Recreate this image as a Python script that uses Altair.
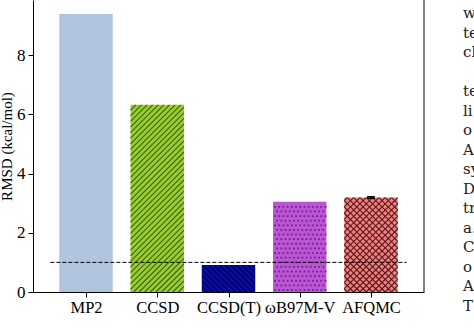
import json
import altair as alt
import pandas as pd

# ---- data ----
names = ["MP2", "CCSD", "CCSD(T)", "ωB97M-V", "AFQMC"]
rmsd = [9.39, 6.32, 0.91, 3.05, 3.19]
errs = [0.0, 0.0, 0.0, 0.0, 0.025]
threshold = 1.0
yticks = [0, 2, 4, 6, 8]
frag_text = ["w", "te", "cl", "", "te", "li", "o", "A", "sy", "D", "tr", "a.", "C", "o", "A", "T"]

# ---- styles ----
colors = ["#b0c4de", "#9acd32", "#000080", "#ba55d3", "#f08080"]
hatches = ["", "/", "\\", ".", "x"]
hatch_colors = ["#000000", "#3b6410", "#3030c0", "#6e1a80", "#5a1818"]
hatch_opacity = [1.0, 1.0, 0.45, 1.0, 1.0]
hatch_step = [0, 5.6, 5.6, 4.2, 6.3]

W, H = 391, 292
XMIN, XMAX = -0.744, 4.744
YMAX = 9.86
BW = 0.75
kx = W / (XMAX - XMIN)
ky = H / YMAX
SERIF = "Liberation Serif"

xs = alt.Scale(domain=[XMIN, XMAX], nice=False, zero=False)
ys = alt.Scale(domain=[0, YMAX], nice=False, zero=False)

idx = list(range(len(names)))
bars_df = pd.DataFrame({
    "name": names,
    "idx": idx,
    "value": rmsd,
    "x0": [i - BW / 2 for i in idx],
    "x1": [i + BW / 2 for i in idx],
})


def hatch_segments(i, top, kind, step):
    w = BW * kx
    h = top * ky
    xl = i - BW / 2
    segs = []

    def add(u0, v0, u1, v1):
        segs.append({"x": xl + u0 / kx, "y": v0 / ky, "x2": xl + u1 / kx, "y2": v1 / ky})

    if kind in ("/", "x"):
        c = -w
        while c < h:
            u0, u1 = max(0.0, -c), min(w, h - c)
            if u1 > u0:
                add(u0, u0 + c, u1, u1 + c)
            c += step
    if kind in ("\\", "x"):
        c = step / 2
        while c < w + h:
            u0, u1 = max(0.0, c - h), min(w, c)
            if u1 > u0:
                add(u0, c - u0, u1, c - u1)
            c += step
    return segs


def dot_points(i, top, step):
    w = BW * kx
    h = top * ky
    xl = i - BW / 2
    pts = []
    v = 2.0
    row = 0
    while v < h - 1:
        u = 2.0 + (step / 2 if row % 2 else 0)
        while u < w - 1:
            pts.append({"x": xl + u / kx, "y": v / ky})
            u += step
        v += step * 1.1
        row += 1
    return pts


label_expr = json.dumps(names, ensure_ascii=False) + "[datum.value]"

bars = alt.Chart(bars_df).mark_rect().encode(
    x=alt.X("x0:Q", scale=xs, axis=alt.Axis(
        values=idx, labelExpr=label_expr, title=None, grid=False, tickSize=5,
        labelFont=SERIF, labelFontSize=16.5, labelColor="black", domainColor="black",
        tickColor="black", labelPadding=2, labelFlush=False, labelOverlap=False)),
    x2="x1:Q",
    y=alt.Y("value:Q", scale=ys, axis=alt.Axis(
        values=yticks, grid=False, tickSize=5, labelFont=SERIF, labelFontSize=17,
        labelColor="black", domainColor="black", tickColor="black", labelPadding=3,
        title="RMSD (kcal/mol)", titleFont=SERIF, titleFontSize=15,
        titleFontWeight="normal", titleColor="black", titlePadding=2)),
    y2=alt.datum(0),
    fill=alt.Fill("name:N", scale=alt.Scale(domain=names, range=colors), legend=None),
)

layers = [bars]
for i, (v, hk) in enumerate(zip(rmsd, hatches)):
    if hk in ("/", "\\", "x"):
        seg_df = pd.DataFrame(hatch_segments(i, v, hk, hatch_step[i]))
        layers.append(
            alt.Chart(seg_df).mark_rule(
                color=hatch_colors[i], strokeWidth=1.1, opacity=hatch_opacity[i]
            ).encode(
                x=alt.X("x:Q", scale=xs), x2="x2:Q",
                y=alt.Y("y:Q", scale=ys), y2="y2:Q",
            )
        )
    elif hk == ".":
        dot_df = pd.DataFrame(dot_points(i, v, hatch_step[i]))
        layers.append(
            alt.Chart(dot_df).mark_square(
                color=hatch_colors[i], size=3, opacity=0.9
            ).encode(
                x=alt.X("x:Q", scale=xs), y=alt.Y("y:Q", scale=ys)
            )
        )

# dashed reference line at 1 kcal/mol
thr = alt.Chart(pd.DataFrame({"t": [threshold]})).mark_rule(
    color="black", strokeDash=[4, 2], strokeWidth=1
).encode(
    x=alt.datum(idx[0] - 0.5, scale=xs), x2=alt.datum(idx[-1] + 0.5),
    y=alt.Y("t:Q", scale=ys),
)
layers.append(thr)

# error bars
err_df = pd.DataFrame({
    "idx": idx, "lo": [v - e for v, e in zip(rmsd, errs)],
    "hi": [v + e for v, e in zip(rmsd, errs)], "e": errs,
})
err_df = err_df[err_df["e"] > 0]
err_df["c0"] = err_df["idx"] - 0.055
err_df["c1"] = err_df["idx"] + 0.055
eb = alt.Chart(err_df).mark_rule(color="black", strokeWidth=1.5).encode(
    x=alt.X("idx:Q", scale=xs), y=alt.Y("lo:Q", scale=ys), y2="hi:Q")
cap_hi = alt.Chart(err_df).mark_rule(color="black", strokeWidth=1.5).encode(
    x=alt.X("c0:Q", scale=xs), x2="c1:Q", y=alt.Y("hi:Q", scale=ys))
cap_lo = alt.Chart(err_df).mark_rule(color="black", strokeWidth=1.5).encode(
    x=alt.X("c0:Q", scale=xs), x2="c1:Q", y=alt.Y("lo:Q", scale=ys))
layers += [eb, cap_hi, cap_lo]

# right frame line
frame = alt.Chart(pd.DataFrame({"a": [0]})).mark_rule(color="black", strokeWidth=1).encode(
    x=alt.datum(XMAX, scale=xs), y=alt.datum(0, scale=ys), y2=alt.datum(YMAX))
layers.append(frame)

# fragments of the surrounding page text (cut by the crop edge)
frag_df = pd.DataFrame({
    "frag": frag_text,
    "ty": [YMAX - (13 + 19.5 * k) / ky for k in range(len(frag_text))],
})
frag_df = frag_df[frag_df["frag"] != ""]
frags = alt.Chart(frag_df).mark_text(
    align="left", baseline="middle", font="DejaVu Serif", fontSize=15, color="#222222"
).encode(
    x=alt.datum(XMAX + 39 / kx, scale=xs),
    y=alt.Y("ty:Q", scale=ys),
    text="frag:N",
)
layers.append(frags)

chart = alt.layer(*layers).properties(
    width=W, height=H,
    autosize=alt.AutoSizeParams(type="none"),
    padding={"left": 33, "top": 0, "right": 50, "bottom": 38},
    background="white",
).configure_view(stroke=None)

chart.save("out.html", embed_options={"renderer": "svg", "actions": False})
